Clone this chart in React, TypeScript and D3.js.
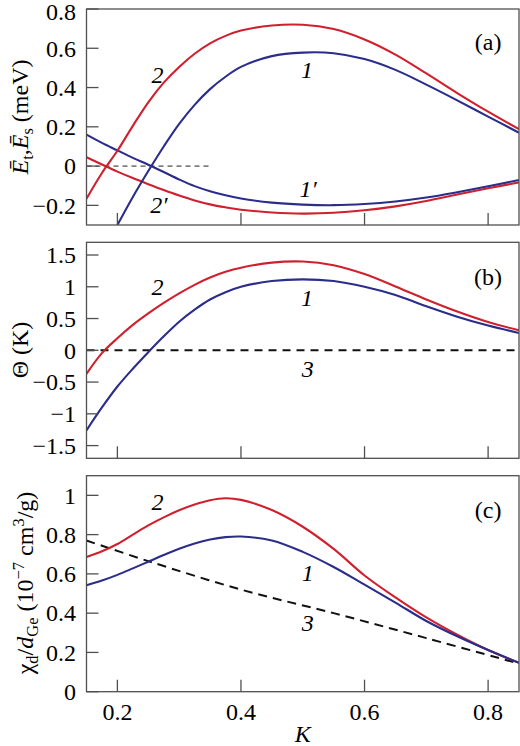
import React from "react";
import * as d3 from "d3";

// ---------- data ----------
const K = [0.15, 0.175, 0.2, 0.225, 0.25, 0.275, 0.3, 0.325, 0.35, 0.375, 0.4, 0.45, 0.5, 0.55, 0.6, 0.65, 0.7, 0.75, 0.8, 0.85];

// panel (a): E_t, E_s (meV)
const aRed2 = [-0.166, -0.035, 0.078, 0.205, 0.325, 0.425, 0.505, 0.572, 0.625, 0.663, 0.69, 0.716, 0.72, 0.698, 0.645, 0.568, 0.472, 0.372, 0.277, 0.188];
const aBlue1: (number | null)[] = [null, null, -0.3, -0.157, -0.025, 0.1, 0.215, 0.312, 0.392, 0.455, 0.505, 0.56, 0.578, 0.575, 0.545, 0.49, 0.415, 0.335, 0.252, 0.17];
const aRed2p = [0.045, 0.008, -0.028, -0.061, -0.092, -0.122, -0.15, -0.175, -0.195, -0.21, -0.222, -0.236, -0.242, -0.238, -0.225, -0.205, -0.178, -0.145, -0.113, -0.083];
const aBlue1p = [0.16, 0.118, 0.08, 0.042, 0.007, -0.03, -0.068, -0.102, -0.128, -0.149, -0.165, -0.186, -0.196, -0.199, -0.193, -0.18, -0.16, -0.133, -0.103, -0.071];
const aZeroK = [0.15, 0.35];
const aZeroV = [0, 0];

// panel (b): Theta (K)
const bRed2 = [-0.37, -0.045, 0.19, 0.4, 0.58, 0.745, 0.895, 1.03, 1.145, 1.235, 1.3, 1.38, 1.397, 1.34, 1.2, 1.005, 0.8, 0.61, 0.445, 0.316];
const bBlue1 = [-1.26, -0.9, -0.57, -0.29, -0.03, 0.22, 0.45, 0.64, 0.8, 0.915, 1.0, 1.09, 1.117, 1.09, 1.0, 0.87, 0.695, 0.53, 0.39, 0.273];
const bDash3K = [0.15, 0.85];
const bDash3V = [0, 0];

// panel (c): chi_d / d_Ge
const cRed2 = [0.686, 0.715, 0.752, 0.8, 0.847, 0.888, 0.924, 0.953, 0.975, 0.985, 0.977, 0.925, 0.84, 0.727, 0.592, 0.48, 0.378, 0.29, 0.212, 0.147];
const cBlue1 = [0.542, 0.566, 0.595, 0.628, 0.662, 0.696, 0.728, 0.755, 0.775, 0.787, 0.79, 0.77, 0.712, 0.635, 0.545, 0.454, 0.36, 0.282, 0.212, 0.147];
const cDash3K = [0.15, 0.25, 0.4, 0.55, 0.7, 0.85];
const cDash3V = [0.77, 0.665, 0.52, 0.4, 0.273, 0.143];

// ticks
const xTicks = [0.2, 0.4, 0.6, 0.8];
const aTicks = [-0.2, 0, 0.2, 0.4, 0.6, 0.8];
const bTicks = [-1.5, -1, -0.5, 0, 0.5, 1, 1.5];
const cTicks = [0, 0.2, 0.4, 0.6, 0.8, 1];

// ---------- styling ----------
const RED = "#d0202e";
const BLUE = "#2b2d8a";
const FRAME = "#505050";
const FS = 24;
const FAM = "'Liberation Serif', Tinos, 'Times New Roman', serif";
const TS = { fontFamily: FAM, fontSize: FS };
const TSI = { fontFamily: FAM, fontSize: FS, fontStyle: "italic" };

const W = 520;
const H = 746;
const X0 = 86.5;
const X1 = 519;

const x = d3.scaleLinear().domain([0.15, 0.85]).range([X0, X1]);

type Series = { k: number[]; v: (number | null)[]; color: string; width: number; dash?: string };
type Label = { text: string; k: number; v: number; italic?: boolean; anchor?: string };

const fmt = (t: number) => (t < 0 ? "\u2212" : "") + String(Math.abs(t));

function Panel(props: {
  id: string;
  top: number;
  bottom: number;
  domain: [number, number];
  ticks: number[];
  series: Series[];
  labels: Label[];
  showX: boolean;
}) {
  const { id, top, bottom, domain, ticks, series, labels, showX } = props;
  const y = d3.scaleLinear().domain(domain).range([bottom, top]);
  const line = (s: Series) =>
    d3
      .line<number>()
      .defined((_, i) => s.v[i] !== null)
      .x((_, i) => x(s.k[i]))
      .y((_, i) => y(s.v[i] as number))
      .curve(d3.curveCatmullRom.alpha(0.5))(s.k) || "";
  return (
    <g>
      <defs>
        <clipPath id={`clip-${id}`}>
          <rect x={X0} y={top} width={X1 - X0} height={bottom - top} />
        </clipPath>
      </defs>
      <g clipPath={`url(#clip-${id})`}>
        {series.map((s, i) => (
          <path key={i} d={line(s)} fill="none" stroke={s.color} strokeWidth={s.width} strokeDasharray={s.dash} />
        ))}
      </g>
      <rect x={X0} y={top} width={X1 - X0} height={bottom - top} fill="none" stroke={FRAME} strokeWidth={1.3} />
      {ticks.map((t) => (
        <line key={`yt${t}`} x1={X0} x2={X0 + 12} y1={y(t)} y2={y(t)} stroke={FRAME} strokeWidth={1.3} />
      ))}
      {ticks.map((t) => (
        <text key={`yl${t}`} className="serif" x={76} y={Math.max(y(t) + 8.3, 19.5)} textAnchor="end" style={TS}>
          {fmt(t)}
        </text>
      ))}
      {xTicks.map((t) => (
        <line key={`xt${t}`} x1={x(t)} x2={x(t)} y1={bottom} y2={bottom - 12} stroke={FRAME} strokeWidth={1.3} />
      ))}
      {showX &&
        xTicks.map((t) => (
          <text key={`xl${t}`} className="serif" x={x(t)} y={bottom + 28.5} textAnchor="middle" style={TS}>
            {fmt(t)}
          </text>
        ))}
      {labels.map((l, i) => (
        <text
          key={`l${i}`}
          className="serif"
          x={x(l.k)}
          y={y(l.v)}
          textAnchor={l.anchor || "middle"}
          style={l.italic ? TSI : TS}
        >
          {l.text}
        </text>
      ))}
    </g>
  );
}

export default function App() {
  const sub = 16.5;
  return (
    <svg width={W} height={H} style={{ position: "absolute", left: 0, top: 0 }}>
      <style>{"text.serif, text.serif tspan { font-family: 'Liberation Serif', Tinos, 'Times New Roman', serif; }"}</style>
      <Panel
        id="a"
        top={9}
        bottom={225}
        domain={[-0.3, 0.8]}
        ticks={aTicks}
        showX={false}
        series={[
          { k: aZeroK, v: aZeroV, color: "#222", width: 1, dash: "5,4" },
          { k: K, v: aRed2p, color: RED, width: 2.1 },
          { k: K, v: aBlue1p, color: BLUE, width: 2.1 },
          { k: K, v: aRed2, color: RED, width: 2.1 },
          { k: K, v: aBlue1, color: BLUE, width: 2.1 },
        ]}
        labels={[
          { text: "2", k: 0.265, v: 0.423, italic: true },
          { text: "2\u2032", k: 0.253, v: -0.239, italic: true, anchor: "start" },
          { text: "1", k: 0.507, v: 0.449, italic: true },
          { text: "1\u2032", k: 0.4946, v: -0.1575, italic: true, anchor: "start" },
          { text: "(a)", k: 0.8, v: 0.591 },
        ]}
      />
      <Panel
        id="b"
        top={242.3}
        bottom={458.3}
        domain={[-1.7, 1.7]}
        ticks={bTicks}
        showX={false}
        series={[
          { k: bDash3K, v: bDash3V, color: "#111", width: 2, dash: "8,6" },
          { k: K, v: bRed2, color: RED, width: 2.1 },
          { k: K, v: bBlue1, color: BLUE, width: 2.1 },
        ]}
        labels={[
          { text: "2", k: 0.265, v: 0.87, italic: true },
          { text: "1", k: 0.507, v: 0.697, italic: true },
          { text: "3", k: 0.508, v: -0.42, italic: true },
          { text: "(b)", k: 0.8, v: 1.028 },
        ]}
      />
      <Panel
        id="c"
        top={475.7}
        bottom={691.7}
        domain={[0, 1.1]}
        ticks={cTicks}
        showX={true}
        series={[
          { k: cDash3K, v: cDash3V, color: "#111", width: 2, dash: "9,6" },
          { k: K, v: cRed2, color: RED, width: 2.1 },
          { k: K, v: cBlue1, color: BLUE, width: 2.1 },
        ]}
        labels={[
          { text: "2", k: 0.265, v: 0.925, italic: true },
          { text: "1", k: 0.508, v: 0.564, italic: true },
          { text: "3", k: 0.508, v: 0.309, italic: true },
          { text: "(c)", k: 0.8, v: 0.885 },
        ]}
      />
      <text className="serif" transform="translate(28,117) rotate(-90)" textAnchor="middle" style={TS}>
        <tspan style={{ fontStyle: "italic" }}>{"\u0112"}</tspan>
        <tspan style={{ fontSize: sub }} dy={5}>t</tspan>
        <tspan dy={-5}>{","}</tspan>
        <tspan style={{ fontStyle: "italic" }}>{"\u0112"}</tspan>
        <tspan style={{ fontSize: sub }} dy={5}>s</tspan>
        <tspan dy={-5}>{" (meV)"}</tspan>
      </text>
      <text className="serif" transform="translate(28,350) rotate(-90)" textAnchor="middle" style={TS}>
        {"\u0398 (K)"}
      </text>
      <text className="serif" transform="translate(33,583) rotate(-90)" textAnchor="middle" style={TS}>
        <tspan>{"\u03C7"}</tspan>
        <tspan style={{ fontSize: sub }} dy={5}>d</tspan>
        <tspan dy={-5}>/</tspan>
        <tspan style={{ fontStyle: "italic" }}>d</tspan>
        <tspan style={{ fontSize: sub }} dy={5}>Ge</tspan>
        <tspan dy={-5}>{" (10"}</tspan>
        <tspan style={{ fontSize: sub }} dy={-9}>{"\u22127"}</tspan>
        <tspan dy={9}>{" cm"}</tspan>
        <tspan style={{ fontSize: sub }} dy={-9}>3</tspan>
        <tspan dy={9}>{"/g)"}</tspan>
      </text>
      <text className="serif" x={x(0.5)} y={742} textAnchor="middle" style={TSI}>
        K
      </text>
    </svg>
  );
}
